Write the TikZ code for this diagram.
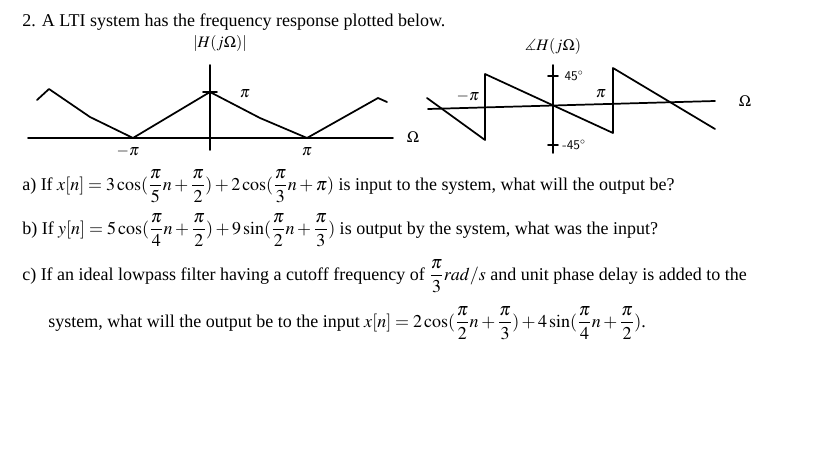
\documentclass[tikz,border=0pt]{standalone}
\usepackage{mathptmx}
\usepackage{amsmath,amssymb}
\usepackage[no-math]{fontspec}
\setmainfont{Liberation Serif}
\newcommand{\fr}[2]{{\genfrac{}{}{}{0}{#1}{#2}}}
\begin{document}
\begin{tikzpicture}[x=0.75pt,y=-0.75pt,
  hand/.style={line width=1.3pt,line cap=round,line join=round},
  txt/.style={anchor=west,inner sep=0pt,font=\fontsize{13.5}{15}\selectfont},
  lab/.style={inner sep=0pt,font=\sffamily\large}]
\useasboundingbox (0,0) rectangle (819,460);
\fill[white] (0,0) rectangle (819,460);
% magnitude plot
\coordinate (a1) at (28,138); \coordinate (a2) at (393,138);
\coordinate (v1) at (210,65); \coordinate (v2) at (210,150);
\draw[hand] (a1) -- (a2);
\draw[hand] (v1) -- (v2);
\draw[hand] (37,100) -- (49,89) -- (90,117) -- (133,138) -- (210,92) -- (260,118) -- (307,138) -- (378,98) -- (387,102);
\draw[hand] (203,92) -- (217,92);
\node[lab] (mag) at (220,44) {$|H(j\Omega)|$};
\node[lab] (pp) at (245,94) {$\pi$};
\node[lab] (mp) at (128,152) {$-\pi$};
\node[lab] (pp2) at (307,152) {$\pi$};
\node[lab] (om1) at (413,137) {$\Omega$};
% phase plot
\coordinate (b1) at (428,109); \coordinate (b2) at (715,101);
\coordinate (w1) at (553,65); \coordinate (w2) at (553,153);
\draw[hand] (b1) -- (b2);
\draw[hand] (w1) -- (w2);
\draw[hand] (427,98) -- (485,140) -- (485,74) -- (613,133) -- (613,68) -- (715,129);
\draw[hand] (548,76) -- (558,76);
\draw[hand] (548,145) -- (558,145);
\node[lab] (ph) at (553,47) {$\measuredangle H(j\Omega)$};
\node[lab,font=\sffamily\normalsize] (p45) at (574,76) {45$^\circ$};
\node[lab,font=\sffamily\normalsize] (m45) at (574,145) {-45$^\circ$};
\node[lab] (mpi2) at (468,97) {$-\pi$};
\node[lab] (pi2) at (601,94) {$\pi$};
\node[lab] (om2) at (745,101) {$\Omega$};
% text
\node[txt] (t0) at (22,22) {2. A LTI system has the frequency response plotted below.};
\node[txt] (ta) at (22,186) {a) If $x[n]=3\cos(\fr{\pi}{5}n+\fr{\pi}{2})+2\cos(\fr{\pi}{3}n+\pi)$ is input to the system, what will the output be?};
\node[txt] (tb) at (22,230) {b) If $y[n]=5\cos(\fr{\pi}{4}n+\fr{\pi}{2})+9\sin(\fr{\pi}{2}n+\fr{\pi}{3})$ is output by the system, what was the input?};
\node[txt] (tc) at (22,276) {c) If an ideal lowpass filter having a cutoff frequency of $\fr{\pi}{3}rad/s$ and unit phase delay is added to the};
\node[txt] (td) at (48,323) {system, what will the output be to the input $x[n]=2\cos(\fr{\pi}{2}n+\fr{\pi}{3})+4\sin(\fr{\pi}{4}n+\fr{\pi}{2})$.};
\end{tikzpicture}
\end{document}
